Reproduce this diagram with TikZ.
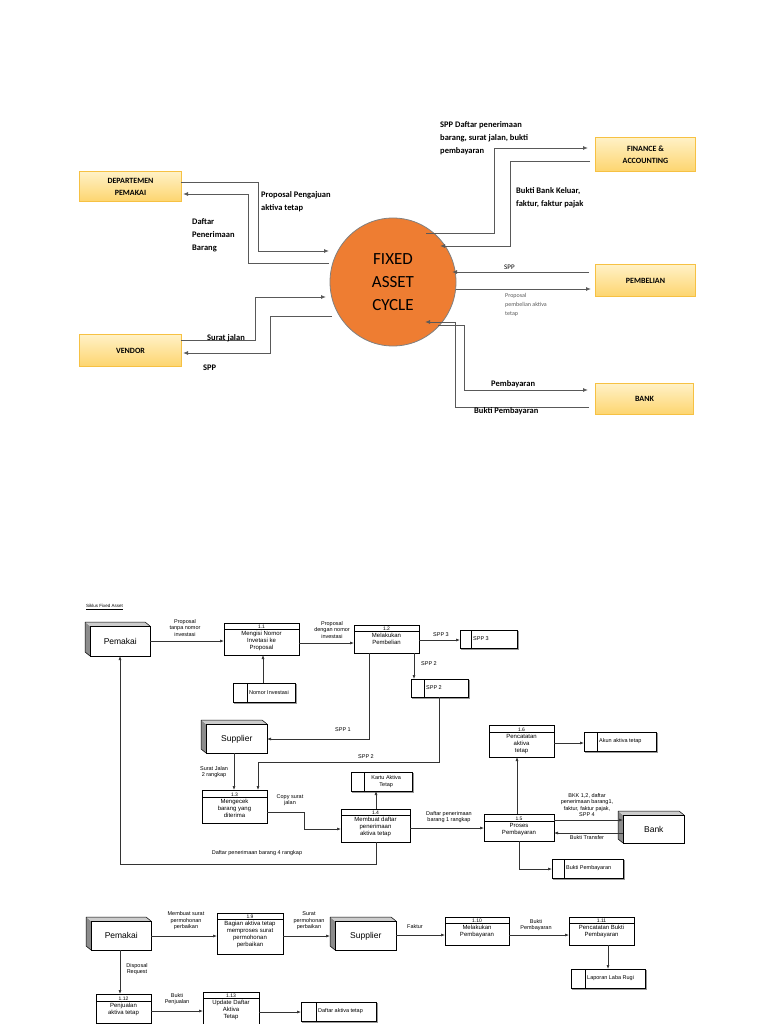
\documentclass[tikz,border=0pt]{standalone}
\usepackage{fontspec}
\setmainfont{Liberation Sans}
\newfontfamily\calfnt{Carlito}
\usetikzlibrary{arrows.meta,shapes.geometric}
\definecolor{boxbd}{HTML}{F6C143}
\definecolor{boxtop}{HTML}{FFF1C6}
\definecolor{boxbot}{HTML}{FDD56F}
\definecolor{circfill}{HTML}{EE7D32}
\tikzset{
  ybox/.style={draw=boxbd,line width=1pt,top color=boxtop,bottom color=boxbot,anchor=north west,font=\calfnt\bfseries\fontsize{8}{12}\selectfont,align=center,inner sep=0},
  tarr/.style={draw=black!65,line width=0.9pt,-{Latex[length=5pt,width=4pt]}},
  tlab/.style={font=\calfnt\bfseries\fontsize{8.5}{13}\selectfont,align=left,anchor=west,inner sep=0},
  proc/.style={draw,line width=0.6pt,anchor=north west,inner sep=0},
  ptxt/.style={font=\fontsize{6}{7}\selectfont,align=center,inner sep=0},
  pnum/.style={font=\fontsize{5}{5}\selectfont,inner sep=0},
  barr/.style={draw=black!80,line width=0.6pt,-{Latex[length=4pt,width=3pt]}},
  blab/.style={font=\fontsize{5.5}{6.5}\selectfont,align=center,inner sep=0},
  stxt/.style={font=\fontsize{5.5}{6.5}\selectfont,anchor=west,inner sep=0}
}
\newcommand{\procbox}[8]{%
  \node[proc,minimum width={#4pt-#2pt},minimum height={#5pt-#3pt}] (#1) at (#2,#3) {};
  \draw[line width=0.6pt] (#2,#6+0.5) -- (#4,#6+0.5);
  \node[pnum,anchor=base] (#1n) at ({(#2+#4)/2},{#6-0.6}) {#7};
  \node[ptxt,anchor=north] (#1t) at ({(#2+#4)/2},{#6+1.8}) {#8};}
\newcommand{\store}[7]{%
  \node[proc,minimum width={#4pt-#2pt},minimum height={#5pt-#3pt}] (#1) at (#2,#3) {};
  \draw[line width=0.6pt] (#6,#3) -- (#6,#5);
  \draw[black!40,line width=1pt] (#4+1,#3+1) -- (#4+1,#5+1) -- (#2+1,#5+1);
  \node[stxt] (#1t) at ({#6+2},{(#3+#5)/2}) {#7};}
\newcommand{\ent}[6]{%
  \fill[black!45] (#2,#3) -- (#2+5,#3+4) -- (#2+5,#5) -- (#2,#5-4) -- cycle;
  \fill[black!20] (#2,#3) -- (#4-5,#3) -- (#4,#3+4) -- (#2+5,#3+4) -- cycle;
  \draw[line width=0.5pt] (#2,#3) -- (#4-5,#3) -- (#4,#3+4) (#2,#3) -- (#2,#5-4) -- (#2+5,#5);
  \node[proc,fill=white,minimum width={#4pt-#2pt-5pt},minimum height={#5pt-#3pt-4pt},font=\fontsize{8.5}{10}\selectfont] (#1) at (#2+5,#3+4) {#6};}
\begin{document}
\begin{tikzpicture}[x=1pt,y=-1pt]
\useasboundingbox (0,0) rectangle (768,1024);
% ================= TOP =================
\node[ybox,minimum width=102pt,minimum height=30pt] (dept) at (79,171) {DEPARTEMEN\\PEMAKAI};
\node[ybox,minimum width=102pt,minimum height=32pt] (vendor) at (79,334) {VENDOR};
\node[ybox,minimum width=100pt,minimum height=34pt] (fin) at (595,137) {FINANCE \&\\ACCOUNTING};
\node[ybox,minimum width=100pt,minimum height=32pt] (pemb) at (595,264) {PEMBELIAN};
\node[ybox,minimum width=98pt,minimum height=31pt] (bank) at (595,383) {BANK};
\node[draw=black!50,line width=0.8pt,fill=circfill,ellipse,minimum width=126pt,minimum height=128pt,inner sep=0,
      font=\calfnt\fontsize{17}{23}\selectfont,align=center] (fac) at (393,282) {FIXED\\ASSET\\CYCLE};
\draw[tarr] (181,182) -- (258,182) -- (258,251) -- (329,251);
\draw[tarr] (329,263) -- (248,263) -- (248,194) -- (183,194);
\node[tlab] (l1) at (261,202) {Proposal Pengajuan\\aktiva tetap};
\node[tlab] (l2) at (192,235) {Daftar\\Penerimaan\\Barang};
\draw[tarr] (181,340) -- (255,340) -- (255,297) -- (326,297);
\draw[tarr] (332,316) -- (270,316) -- (270,353) -- (183,353);
\node[tlab] (l3) at (207,338) {Surat jalan};
\node[tlab] (l4) at (203,368) {SPP};
\draw[tarr] (426,233) -- (494,233) -- (494,148) -- (588,148);
\draw[tarr] (590,161) -- (510,161) -- (510,246) -- (440,246);
\node[tlab] (l5) at (440,138) {SPP Daftar penerimaan\\barang, surat jalan, bukti\\pembayaran};
\node[tlab] (l6) at (516,198) {Bukti Bank Keluar,\\faktur, faktur pajak};
\draw[tarr] (589,272) -- (452,272);
\draw[tarr] (456,289) -- (591,289);
\node[tlab,font=\calfnt\fontsize{7}{9}\selectfont] (l7) at (504,267) {SPP};
\node[tlab,font=\calfnt\fontsize{6}{9}\selectfont,text=black!65] (l8) at (505,305) {Proposal\\pembelian aktiva\\tetap};
\draw[tarr] (438,325) -- (464,325) -- (464,390) -- (588,390);
\draw[tarr] (589,407) -- (455,407) -- (455,322) -- (425,322);
\node[tlab] (l9) at (491,384) {Pembayaran};
\node[tlab] (l10) at (474,411) {Bukti Pembayaran};
% ================= MIDDLE =================
\node[font=\fontsize{4.5}{5}\selectfont,anchor=west,inner sep=0] (title) at (86,607) {\underline{Siklus Fixed Asset}};
\ent{pem}{85}{622}{150}{656}{Pemakai}
\procbox{p11}{224}{623}{299}{655}{629}{1.1}{Mengisi Nomor\\Invetasi ke\\Proposal}
\procbox{p12}{354}{625}{419}{653}{631}{1.2}{Melakukan\\Pembelian}
\store{s3}{460}{630}{517}{648}{471}{SPP 3}
\store{s2}{411}{679}{468}{697}{424}{SPP 2}
\store{sni}{233}{683}{295}{702}{247}{Nomor Investasi}
\ent{sup}{201}{720}{267}{753}{Supplier}
\procbox{p13}{202}{790}{267}{823}{797}{1.3}{Mengecek\\barang yang\\diterima}
\store{kat}{351}{772}{412}{791}{364}{\parbox{40pt}{\centering Kartu Aktiva\\Tetap}}
\procbox{p14}{341}{809}{410}{842}{815}{1.4}{Membuat daftar\\penerimaan\\aktiva tetap}
\procbox{p15}{484}{814}{554}{841}{821}{1.5}{Proses\\Pembayaran}
\procbox{p16}{489}{725}{554}{757}{732}{1.6}{Pencatatan\\aktiva\\tetap}
\store{sak}{584}{732}{656}{751}{597}{Akun aktiva tetap}
\ent{bank2}{618}{811}{684}{843}{Bank}
\store{sbp}{552}{859}{623}{878}{564}{Bukti Pembayaran}
\draw[barr] (150,641) -- (224,641);
\node[blab] (m1) at (185,628) {Proposal\\tanpa nomor\\investasi};
\draw[barr] (299,643) -- (354,643);
\node[blab] (m2) at (332,630) {Proposal\\dengan nomor\\investasi};
\draw[barr] (419,640) -- (460,640);
\node[blab] (m3) at (441,635) {SPP 3};
\draw[barr] (414,653) -- (414,679);
\node[blab] (m4) at (429,664) {SPP 2};
\draw[barr] (263,683) -- (263,655);
\draw[barr] (369,653) -- (369,739) -- (267,739);
\node[blab] (m5) at (343,730) {SPP 1};
\draw[barr] (439,697) -- (439,762) -- (258,762) -- (258,790);
\node[blab] (m6) at (366,757) {SPP 2};
\draw[barr] (234,753) -- (234,790);
\node[blab] (m7) at (214,772) {Surat Jalan\\2 rangkap};
\draw[barr] (267,812) -- (304,812) -- (304,829) -- (341,829);
\node[blab] (m8) at (290,800) {Copy surat\\jalan};
\draw[barr] (376,809) -- (376,791);
\draw[barr] (376,842) -- (376,864) -- (120,864) -- (120,656);
\node[blab] (m9) at (257,853) {Daftar penerimaan barang 4 rangkap};
\draw[barr] (410,828) -- (484,828);
\node[blab] (m10) at (449,817) {Daftar penerimaan\\barang 1 rangkap};
\draw[barr] (517,814) -- (517,757);
\draw[barr] (554,743) -- (584,743);
\draw[barr] (554,820) -- (623,820);
\node[blab] (m11) at (587,805) {BKK 1,2, daftar\\penerimaan barang1,\\faktur, faktur pajak,\\SPP 4};
\draw[barr] (623,833) -- (554,833);
\node[blab] (m12) at (587,838) {Bukti Transfer};
\draw[barr] (519,841) -- (519,869) -- (552,869);
% ================= BOTTOM =================
\ent{pem2}{86}{917}{151}{950}{Pemakai}
\procbox{p19}{217}{913}{283}{954}{919}{1.9}{Bagian aktiva tetap\\memproses surat\\permohonan\\perbaikan}
\ent{sup2}{330}{917}{396}{950}{Supplier}
\procbox{p110}{445}{917}{509}{945}{923}{1.10}{Melakukan\\Pembayaran}
\procbox{p111}{569}{917}{634}{945}{923}{1.11}{Pencatatan Bukti\\Pembayaran}
\store{slr}{571}{969}{645}{988}{585}{Laporan Laba Rugi}
\procbox{p112}{96}{994}{151}{1023}{1001}{1.12}{Penjualan\\aktiva tetap}
\procbox{p113}{203}{992}{259}{1024}{998}{1.13}{Update Daftar\\Aktiva\\Tetap}
\store{sdat}{301}{1002}{376}{1021}{316}{Daftar aktiva tetap}
\draw[barr] (151,936) -- (217,936);
\node[blab] (b1) at (186,921) {Membuat surat\\permohonan\\perbaikan};
\draw[barr] (283,936) -- (330,936);
\node[blab] (b2) at (309,921) {Surat\\permohonan\\perbaikan};
\draw[barr] (396,935) -- (445,935);
\node[blab] (b3) at (415,927) {Faktur};
\draw[barr] (509,935) -- (569,935);
\node[blab] (b4) at (536,925) {Bukti\\Pembayaran};
\draw[barr] (608,945) -- (608,969);
\draw[barr] (120,950) -- (120,994);
\node[blab] (b5) at (137,969) {Disposal\\Request};
\draw[barr] (151,1011) -- (203,1011);
\node[blab] (b6) at (177,999) {Bukti\\Penjualan};
\draw[barr] (259,1012) -- (301,1012);
\end{tikzpicture}
\end{document}
